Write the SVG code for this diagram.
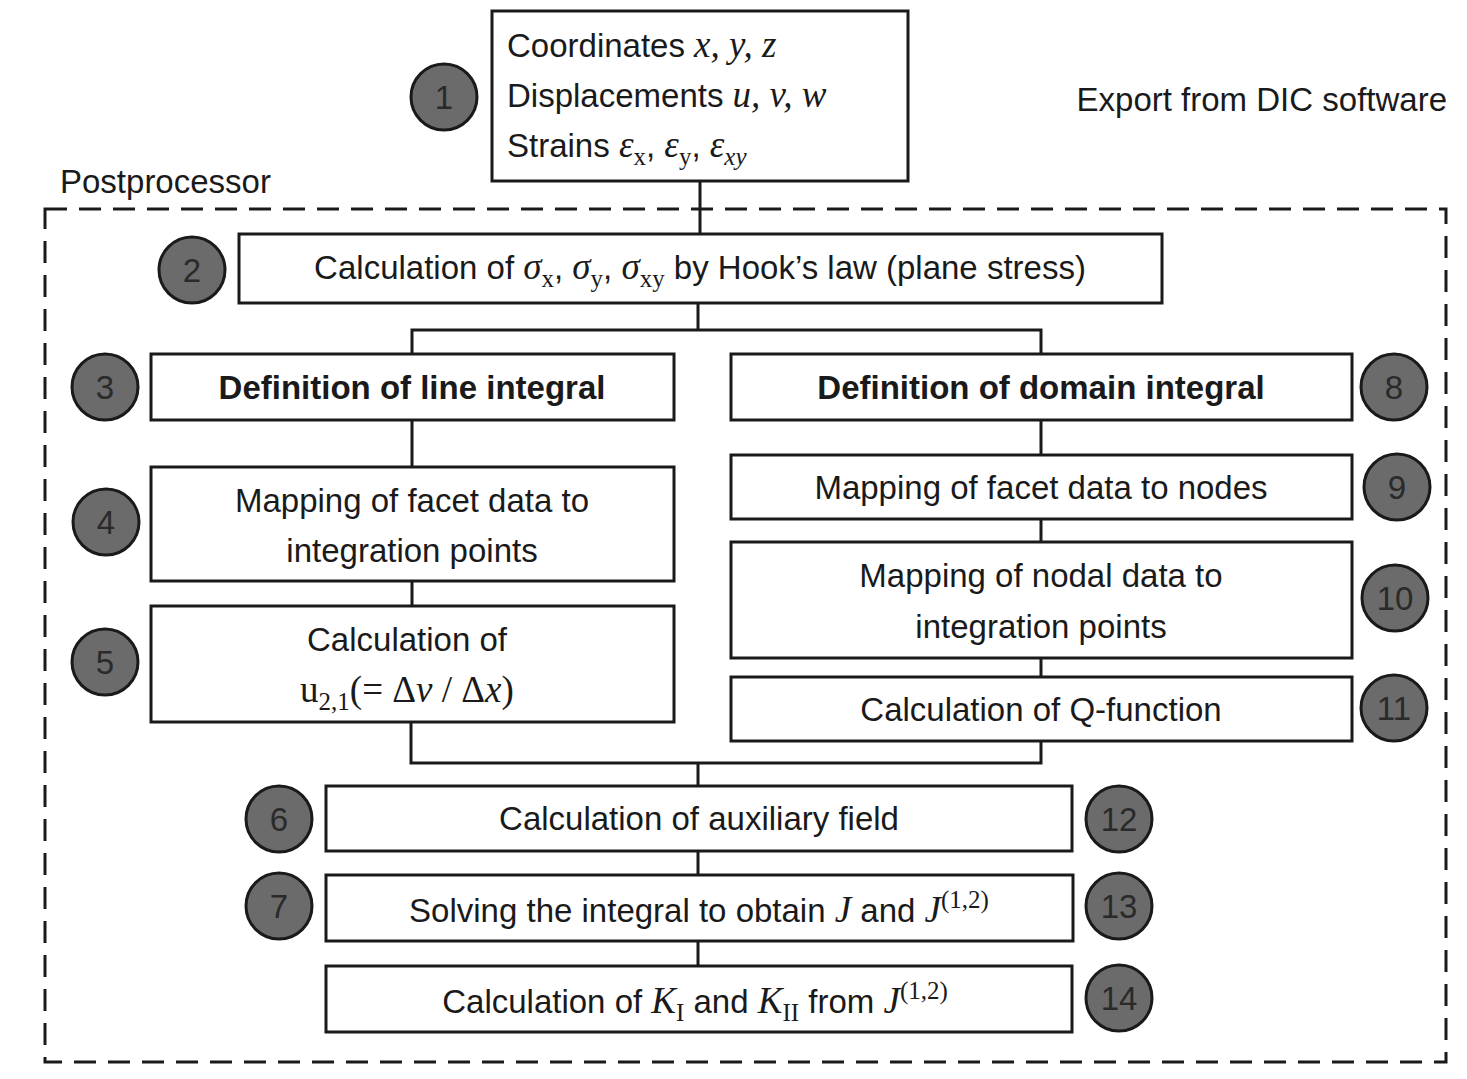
<svg xmlns="http://www.w3.org/2000/svg" width="1467" height="1079" viewBox="0 0 1467 1079">
<style>
.b{fill:#fff;stroke:#1a1a1a;stroke-width:3}
.c{fill:#6b6b6b;stroke:#1a1a1a;stroke-width:3}
.n{font-family:"Liberation Sans",Arial,sans-serif;font-size:33px;fill:#2a2a2a;text-anchor:middle}
.t{font-family:"Liberation Sans",Arial,sans-serif;font-size:33px;fill:#1a1a1a}
.m{font-family:"Liberation Serif","Times New Roman",serif;font-style:italic;font-size:37px}
.r{font-family:"Liberation Serif","Times New Roman",serif;font-size:37px}
.s{font-size:25px}
.l{fill:none;stroke:#1a1a1a;stroke-width:3}
</style>
<rect width="1467" height="1079" fill="#fff"/>
<rect x="45" y="209" width="1401" height="853" fill="none" stroke="#1a1a1a" stroke-width="3" stroke-dasharray="22,12"/>
<text class="t" x="60" y="193">Postprocessor</text>
<text class="t" x="1447" y="111" text-anchor="end">Export from DIC software</text>
<g id="connectors">
<path class="l" d="M700 181V234M698 303V330M412 354V330H1041V354M412 420V467M412 581V606M1041 420V455M1041 519V542M1041 658V677M411 722V763H1041V741M698 763V786M698 851V875M698 941V966"/>
</g>
<g id="n1"><rect class="b" x="492" y="11" width="416" height="170"/>
<text class="t" x="507" y="57">Coordinates <tspan class="m">x, y, z</tspan></text>
<text class="t" x="507" y="107">Displacements <tspan class="m">u, v, w</tspan></text>
<text class="t" x="507" y="157">Strains <tspan class="m">ε</tspan><tspan class="r s" dy="8">x</tspan><tspan dy="-8">, </tspan><tspan class="m">ε</tspan><tspan class="r s" dy="8">y</tspan><tspan dy="-8">, </tspan><tspan class="m">ε</tspan><tspan class="m s" dy="8">xy</tspan></text>
<circle class="c" cx="444" cy="97" r="33"/><text class="n" x="444" y="109">1</text></g>
<g id="n2"><rect class="b" x="239" y="234" width="923" height="69"/>
<text class="t" x="700" y="279" text-anchor="middle">Calculation of <tspan class="m">σ</tspan><tspan class="r s" dy="8">x</tspan><tspan dy="-8">, </tspan><tspan class="m">σ</tspan><tspan class="r s" dy="8">y</tspan><tspan dy="-8">, </tspan><tspan class="m">σ</tspan><tspan class="r s" dy="8">xy</tspan><tspan dy="-8"> by Hook’s law (plane stress)</tspan></text>
<circle class="c" cx="192" cy="270" r="33"/><text class="n" x="192" y="282">2</text></g>
<g id="n3"><rect class="b" x="151" y="354" width="523" height="66"/>
<text class="t" x="412" y="399" text-anchor="middle" font-weight="bold">Definition of line integral</text>
<circle class="c" cx="105" cy="387" r="33"/><text class="n" x="105" y="399">3</text></g>
<g id="n8"><rect class="b" x="731" y="354" width="621" height="66"/>
<text class="t" x="1041" y="399" text-anchor="middle" font-weight="bold">Definition of domain integral</text>
<circle class="c" cx="1394" cy="387" r="33"/><text class="n" x="1394" y="399">8</text></g>
<g id="n4"><rect class="b" x="151" y="467" width="523" height="114"/>
<text class="t" x="412" y="512" text-anchor="middle">Mapping of facet data to</text>
<text class="t" x="412" y="562" text-anchor="middle">integration points</text>
<circle class="c" cx="106" cy="522" r="33"/><text class="n" x="106" y="534">4</text></g>
<g id="n5"><rect class="b" x="151" y="606" width="523" height="116"/>
<text class="t" x="407" y="651" text-anchor="middle">Calculation of</text>
<text class="t" x="407" y="702" text-anchor="middle"><tspan class="r">u</tspan><tspan class="r s" dy="8">2,1</tspan><tspan class="r" dy="-8">(=  Δ</tspan><tspan class="m">v</tspan><tspan class="r"> / Δ</tspan><tspan class="m">x</tspan><tspan class="r">)</tspan></text>
<circle class="c" cx="105" cy="662" r="33"/><text class="n" x="105" y="674">5</text></g>
<g id="n9"><rect class="b" x="731" y="455" width="621" height="64"/>
<text class="t" x="1041" y="499" text-anchor="middle">Mapping of facet data to nodes</text>
<circle class="c" cx="1397" cy="487" r="33"/><text class="n" x="1397" y="499">9</text></g>
<g id="n10"><rect class="b" x="731" y="542" width="621" height="116"/>
<text class="t" x="1041" y="587" text-anchor="middle">Mapping of nodal data to</text>
<text class="t" x="1041" y="638" text-anchor="middle">integration points</text>
<circle class="c" cx="1395" cy="598" r="33"/><text class="n" x="1395" y="610">10</text></g>
<g id="n11"><rect class="b" x="731" y="677" width="621" height="64"/>
<text class="t" x="1041" y="721" text-anchor="middle">Calculation of Q-function</text>
<circle class="c" cx="1394" cy="708" r="33"/><text class="n" x="1394" y="720">11</text></g>
<g id="n6"><rect class="b" x="326" y="786" width="746" height="65"/>
<text class="t" x="699" y="830" text-anchor="middle">Calculation of auxiliary field</text>
<circle class="c" cx="279" cy="819" r="33"/><text class="n" x="279" y="831">6</text>
<circle class="c" cx="1119" cy="819" r="33"/><text class="n" x="1119" y="831">12</text></g>
<g id="n7"><rect class="b" x="326" y="875" width="747" height="66"/>
<text class="t" x="699" y="922" text-anchor="middle">Solving the integral to obtain <tspan class="m">J</tspan> and <tspan class="m">J</tspan><tspan class="r s" dy="-14">(1,2)</tspan></text>
<circle class="c" cx="279" cy="906" r="33"/><text class="n" x="279" y="918">7</text>
<circle class="c" cx="1119" cy="906" r="33"/><text class="n" x="1119" y="918">13</text></g>
<g id="n14"><rect class="b" x="326" y="966" width="746" height="66"/>
<text class="t" x="695" y="1013" text-anchor="middle">Calculation of <tspan class="m">K</tspan><tspan class="r s" dy="8">I</tspan><tspan dy="-8"> and </tspan><tspan class="m">K</tspan><tspan class="r s" dy="8">II</tspan><tspan dy="-8"> from </tspan><tspan class="m">J</tspan><tspan class="r s" dy="-14">(1,2)</tspan></text>
<circle class="c" cx="1119" cy="998" r="33"/><text class="n" x="1119" y="1010">14</text></g>
</svg>
